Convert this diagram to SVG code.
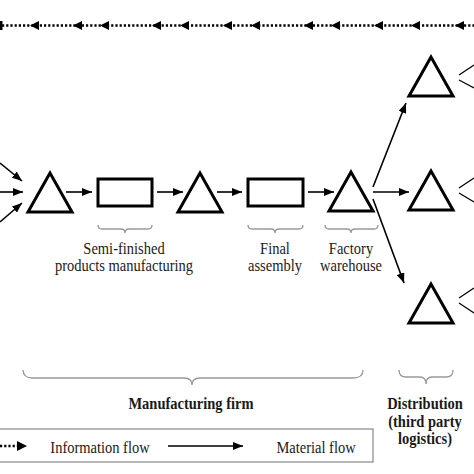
<svg xmlns="http://www.w3.org/2000/svg" xmlns:xlink="http://www.w3.org/1999/xlink" width="474" height="474" viewBox="0 0 474 474">
<defs>
<style>
.tri{fill:none;stroke:#000;stroke-width:3;stroke-linejoin:miter}
.box{fill:none;stroke:#000;stroke-width:3}
.flow{fill:none;stroke:#000;stroke-width:1.6}
.info{fill:none;stroke:#000;stroke-width:2.4;stroke-dasharray:2.2 2}
.brace{fill:none;stroke:#999;stroke-width:1.3}
.thin{fill:none;stroke:#000;stroke-width:1.2}
text{font-family:"Liberation Serif","Times New Roman",serif;font-size:14.5px;fill:#1a1a1a;text-anchor:middle}
.b{font-weight:bold}
</style>
<marker id="arr" viewBox="0 0 10 8" refX="10" refY="4" markerWidth="10" markerHeight="8" markerUnits="userSpaceOnUse" orient="auto">
<path d="M0,0 L10,4 L0,8 Z" fill="#000"/>
</marker>
<path id="ih" d="M0,0 L9,-4.5 L9,4.5 Z" fill="#000"/>
</defs>

<g id="info-flow-top">
<line class="info" x1="2" y1="25.5" x2="474" y2="25.5"/>
<rect x="0" y="21" width="2.5" height="9" fill="#000"/>
<use xlink:href="#ih" x="30" y="25.5"/>
<use xlink:href="#ih" x="73" y="25.5"/>
<use xlink:href="#ih" x="100" y="25.5"/>
<use xlink:href="#ih" x="152" y="25.5"/>
<use xlink:href="#ih" x="180" y="25.5"/>
<use xlink:href="#ih" x="223" y="25.5"/>
<use xlink:href="#ih" x="251" y="25.5"/>
<use xlink:href="#ih" x="304" y="25.5"/>
<use xlink:href="#ih" x="331" y="25.5"/>
<use xlink:href="#ih" x="374" y="25.5"/>
<use xlink:href="#ih" x="411" y="25.5"/>
<use xlink:href="#ih" x="455" y="25.5"/>
</g>

<g id="connectors">
<line class="flow" x1="0" y1="163" x2="22" y2="181" marker-end="url(#arr)"/>
<line class="flow" x1="0" y1="192" x2="23" y2="192" marker-end="url(#arr)"/>
<line class="flow" x1="0" y1="222" x2="22" y2="203" marker-end="url(#arr)"/>
<line class="flow" x1="66" y1="192" x2="92" y2="192" marker-end="url(#arr)"/>
<line class="flow" x1="157" y1="192" x2="183" y2="192" marker-end="url(#arr)"/>
<line class="flow" x1="217" y1="192" x2="242" y2="192" marker-end="url(#arr)"/>
<line class="flow" x1="308" y1="192" x2="334" y2="192" marker-end="url(#arr)"/>
<line class="flow" x1="373" y1="187" x2="406" y2="103" marker-end="url(#arr)"/>
<line class="flow" x1="373" y1="192" x2="409" y2="192" marker-end="url(#arr)"/>
<line class="flow" x1="373" y1="199" x2="404" y2="283" marker-end="url(#arr)"/>
<path class="thin" d="M474,65 L459,75 M459,80 L474,88"/>
<path class="thin" d="M474,178 L459,188 M459,193 L474,202"/>
<path class="thin" d="M474,288 L459,298 M459,303 L474,313"/>
</g>

<g id="tri1"><polygon class="tri" points="50,173 28,212 72,212"/></g>
<g id="rect1"><rect class="box" x="98" y="179" width="54" height="27"/></g>
<g id="tri2"><polygon class="tri" points="200,173 178,212 222,212"/></g>
<g id="rect2"><rect class="box" x="248" y="179" width="55" height="27"/></g>
<g id="tri3"><polygon class="tri" points="351,172 329,211 373,211"/></g>
<g id="tri-top"><polygon class="tri" points="431,57 409,96 453,96"/></g>
<g id="tri-mid"><polygon class="tri" points="431,171 409,210 453,210"/></g>
<g id="tri-bot"><polygon class="tri" points="431,284 409,323 453,323"/></g>

<g id="label-semi">
<path class="brace" d="M98,225 Q98,229 102,229 L121,229 Q125,229 125,233 Q125,229 129,229 L148,229 Q152,229 152,225"/>
<text transform="translate(124,254) scale(1,1.15)">Semi-finished</text>
<text transform="translate(124,271) scale(1,1.15)">products manufacturing</text>
</g>
<g id="label-final">
<path class="brace" d="M248,225 Q248,229 252,229 L271,229 Q275,229 275,233 Q275,229 279,229 L299,229 Q303,229 303,225"/>
<text transform="translate(275,254) scale(1,1.15)">Final</text>
<text transform="translate(275,271) scale(1,1.15)">assembly</text>
</g>
<g id="label-warehouse">
<path class="brace" d="M325,225 Q325,229 329,229 L347,229 Q351,229 351,233 Q351,229 355,229 L374,229 Q378,229 378,225"/>
<text transform="translate(351,254) scale(1,1.15)">Factory</text>
<text transform="translate(351,271) scale(1,1.15)">warehouse</text>
</g>

<g id="label-manufacturing">
<path class="brace" d="M23,370 Q23,378 33,378 L184,378 Q192,378 192,385 Q192,378 200,378 L353,378 Q363,378 363,370"/>
<text class="b" transform="translate(191,409) scale(1,1.1)">Manufacturing firm</text>
</g>
<g id="label-distribution">
<path class="brace" d="M399,370 Q399,377 406,377 L420,377 Q426,377 426,384 Q426,377 432,377 L446,377 Q453,377 453,370"/>
<text class="b" transform="translate(425,409) scale(1,1.1)">Distribution</text>
<text class="b" transform="translate(425,427) scale(1,1.1)">(third party</text>
<text class="b" transform="translate(425,444) scale(1,1.1)">logistics)</text>
</g>

<g id="legend">
<rect x="-5" y="429" width="378" height="33" fill="none" stroke="#888" stroke-width="1.2"/>
<line class="info" x1="0" y1="446" x2="18" y2="446"/>
<path d="M27,446 L17,441 L17,451 Z" fill="#000"/>
<text transform="translate(100,453) scale(1,1.12)">Information flow</text>
<line class="flow" x1="168" y1="446" x2="243" y2="446" marker-end="url(#arr)"/>
<text transform="translate(316,453) scale(1,1.12)">Material flow</text>
</g>
</svg>
